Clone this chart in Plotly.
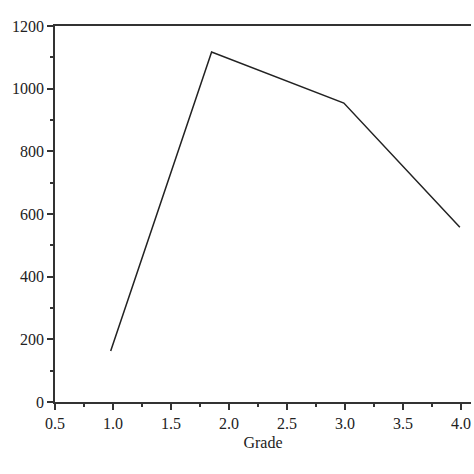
import plotly.graph_objects as go

# data
grade = [0.98, 1.85, 2.99, 3.99]
value = [163, 1117, 954, 558]

x_ticks = [0.5, 1.0, 1.5, 2.0, 2.5, 3.0, 3.5, 4.0]
y_ticks = [0, 200, 400, 600, 800, 1000, 1200]

fig = go.Figure()
fig.add_trace(go.Scatter(x=grade, y=value, mode="lines",
                         line=dict(color="#222222", width=1.5)))

axis_font = dict(family="Liberation Serif, DejaVu Serif, serif", size=16, color="#222222")

fig.update_layout(
    width=474, height=474,
    margin=dict(l=55, r=3, t=26, b=72),
    paper_bgcolor="white", plot_bgcolor="white",
    showlegend=False,
    font=axis_font,
)
fig.update_xaxes(
    range=[0.5, 4.086], tickvals=x_ticks, ticktext=[f"{v:.1f}" for v in x_ticks],
    showline=True, linecolor="#333333", linewidth=1.5, mirror=True,
    ticks="outside", ticklen=6, tickwidth=1.5, tickcolor="#333333",
    minor=dict(dtick=0.25, ticks="outside", ticklen=3, tickcolor="#333333", tickwidth=1.5),
    showgrid=False, zeroline=False,
    title=dict(text="Grade", font=axis_font, standoff=6),
)
fig.update_yaxes(
    range=[0, 1200], tickvals=y_ticks,
    showline=True, linecolor="#333333", linewidth=1.5,
    ticks="outside", ticklen=6, tickwidth=1.5, tickcolor="#333333",
    minor=dict(dtick=100, ticks="outside", ticklen=3, tickcolor="#333333", tickwidth=1.5),
    showgrid=False, zeroline=False,
)

# drop the default page margin so the figure fills the window without scrollbars
fig.write_html("out.html",
               config={"displayModeBar": False},
               post_script="document.body.style.margin='0';document.body.style.overflow='hidden';")
